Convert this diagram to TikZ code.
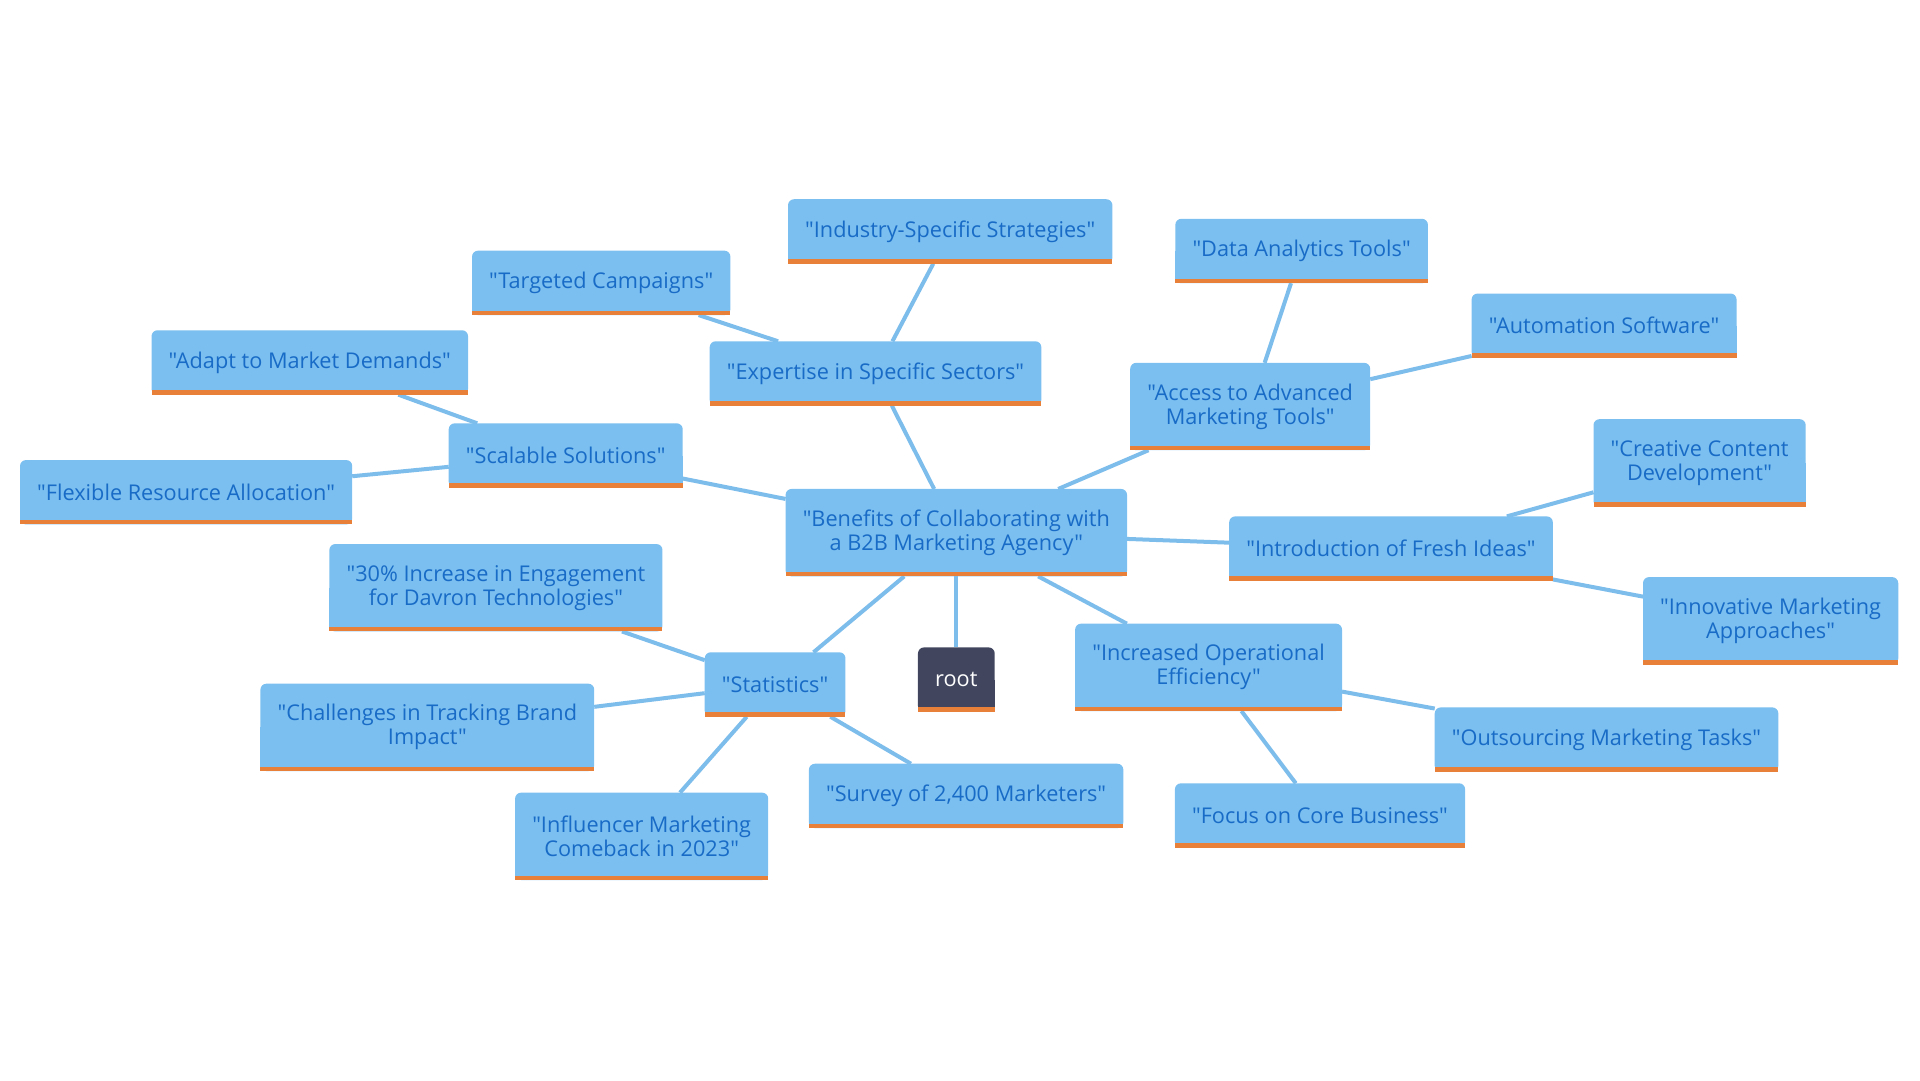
\documentclass[tikz,border=0pt]{standalone}
\usepackage{fontspec}
\setmainfont{Open Sans}[Ligatures=TeXOff]
\usepackage{tikz}
\usetikzlibrary{backgrounds}

\definecolor{boxblue}{HTML}{7BBFF0}
\definecolor{edgeblue}{HTML}{7DBDEB}
\definecolor{txtblue}{HTML}{186BC6}
\definecolor{stripe}{HTML}{E8803A}
\definecolor{rootgray}{HTML}{41465E}

\begin{document}
\begin{tikzpicture}[x=1.2245pt, y=-1.2245pt,
    topic/.style={text=txtblue, font=\fontsize{21.7}{24}\selectfont, align=center,
                  inner xsep=17pt, inner ysep=0pt, minimum height=64pt},
    twoline/.style={minimum height=87pt},
    link/.style={edgeblue, line width=4pt}]

    \useasboundingbox (0,0) rectangle (1568,882);

    % Centre and root
    \node[topic, twoline] (benefits) at (781,435) {"Benefits of Collaborating with\\a B2B Marketing Agency"};
    \node[topic, text=white] (root) at (781,555) {root};

    % Expertise branch
    \node[topic] (expertise) at (715,305) {"Expertise in Specific Sectors"};
    \node[topic] (industry) at (776,189) {"Industry-Specific Strategies"};
    \node[topic] (targeted) at (491,231) {"Targeted Campaigns"};

    % Scalable branch
    \node[topic] (scalable) at (462,372) {"Scalable Solutions"};
    \node[topic] (adapt) at (253,296) {"Adapt to Market Demands"};
    \node[topic] (flexible) at (152,402) {"Flexible Resource Allocation"};

    % Tools branch
    \node[topic, twoline] (tools) at (1021,332) {"Access to Advanced\\Marketing Tools"};
    \node[topic] (analytics) at (1063,205) {"Data Analytics Tools"};
    \node[topic] (automation) at (1310,266) {"Automation Software"};

    % Ideas branch
    \node[topic] (ideas) at (1136,448) {"Introduction of Fresh Ideas"};
    \node[topic, twoline] (creative) at (1388,378) {"Creative Content\\Development"};
    \node[topic, twoline] (innovative) at (1446,507) {"Innovative Marketing\\Approaches"};

    % Efficiency branch
    \node[topic, twoline] (efficiency) at (987,545) {"Increased Operational\\Efficiency"};
    \node[topic] (outsourcing) at (1312,604) {"Outsourcing Marketing Tasks"};
    \node[topic] (focus) at (1078,666) {"Focus on Core Business"};

    % Statistics branch
    \node[topic] (stats) at (633,559) {"Statistics"};
    \node[topic, twoline] (engagement) at (405,480) {"30\% Increase in Engagement\\for Davron Technologies"};
    \node[topic, twoline] (tracking) at (349,594) {"Challenges in Tracking Brand\\Impact"};
    \node[topic, twoline] (influencer) at (524,683) {"Influencer Marketing\\Comeback in 2023"};
    \node[topic] (survey) at (789,650) {"Survey of 2,400 Marketers"};

    \begin{scope}[on background layer]
        % Connectors
        \foreach \a/\b in {benefits/root, benefits/expertise, benefits/scalable,
                benefits/tools, benefits/ideas, benefits/efficiency, benefits/stats,
                expertise/industry, expertise/targeted, scalable/adapt, scalable/flexible,
                tools/analytics, tools/automation, ideas/creative, ideas/innovative,
                efficiency/outsourcing, efficiency/focus, stats/engagement,
                stats/tracking, stats/influencer, stats/survey} {
            \draw[link] (\a) -- (\b);
        }

        % Boxes: rounded top, square bottom, orange stripe
        \foreach \n/\c in {root/rootgray, benefits/boxblue, expertise/boxblue,
                industry/boxblue, targeted/boxblue, scalable/boxblue, adapt/boxblue,
                flexible/boxblue, tools/boxblue, analytics/boxblue, automation/boxblue,
                ideas/boxblue, creative/boxblue, innovative/boxblue, efficiency/boxblue,
                outsourcing/boxblue, focus/boxblue, stats/boxblue, engagement/boxblue,
                tracking/boxblue, influencer/boxblue, survey/boxblue} {
            \fill[\c, rounded corners=6pt] (\n.south west) rectangle (\n.north east);
            \fill[\c] (\n.south west) rectangle (\n.east);
            \fill[stripe] (\n.south west) rectangle ([yshift=4.5pt]\n.south east);
        }
    \end{scope}
\end{tikzpicture}
\end{document}
